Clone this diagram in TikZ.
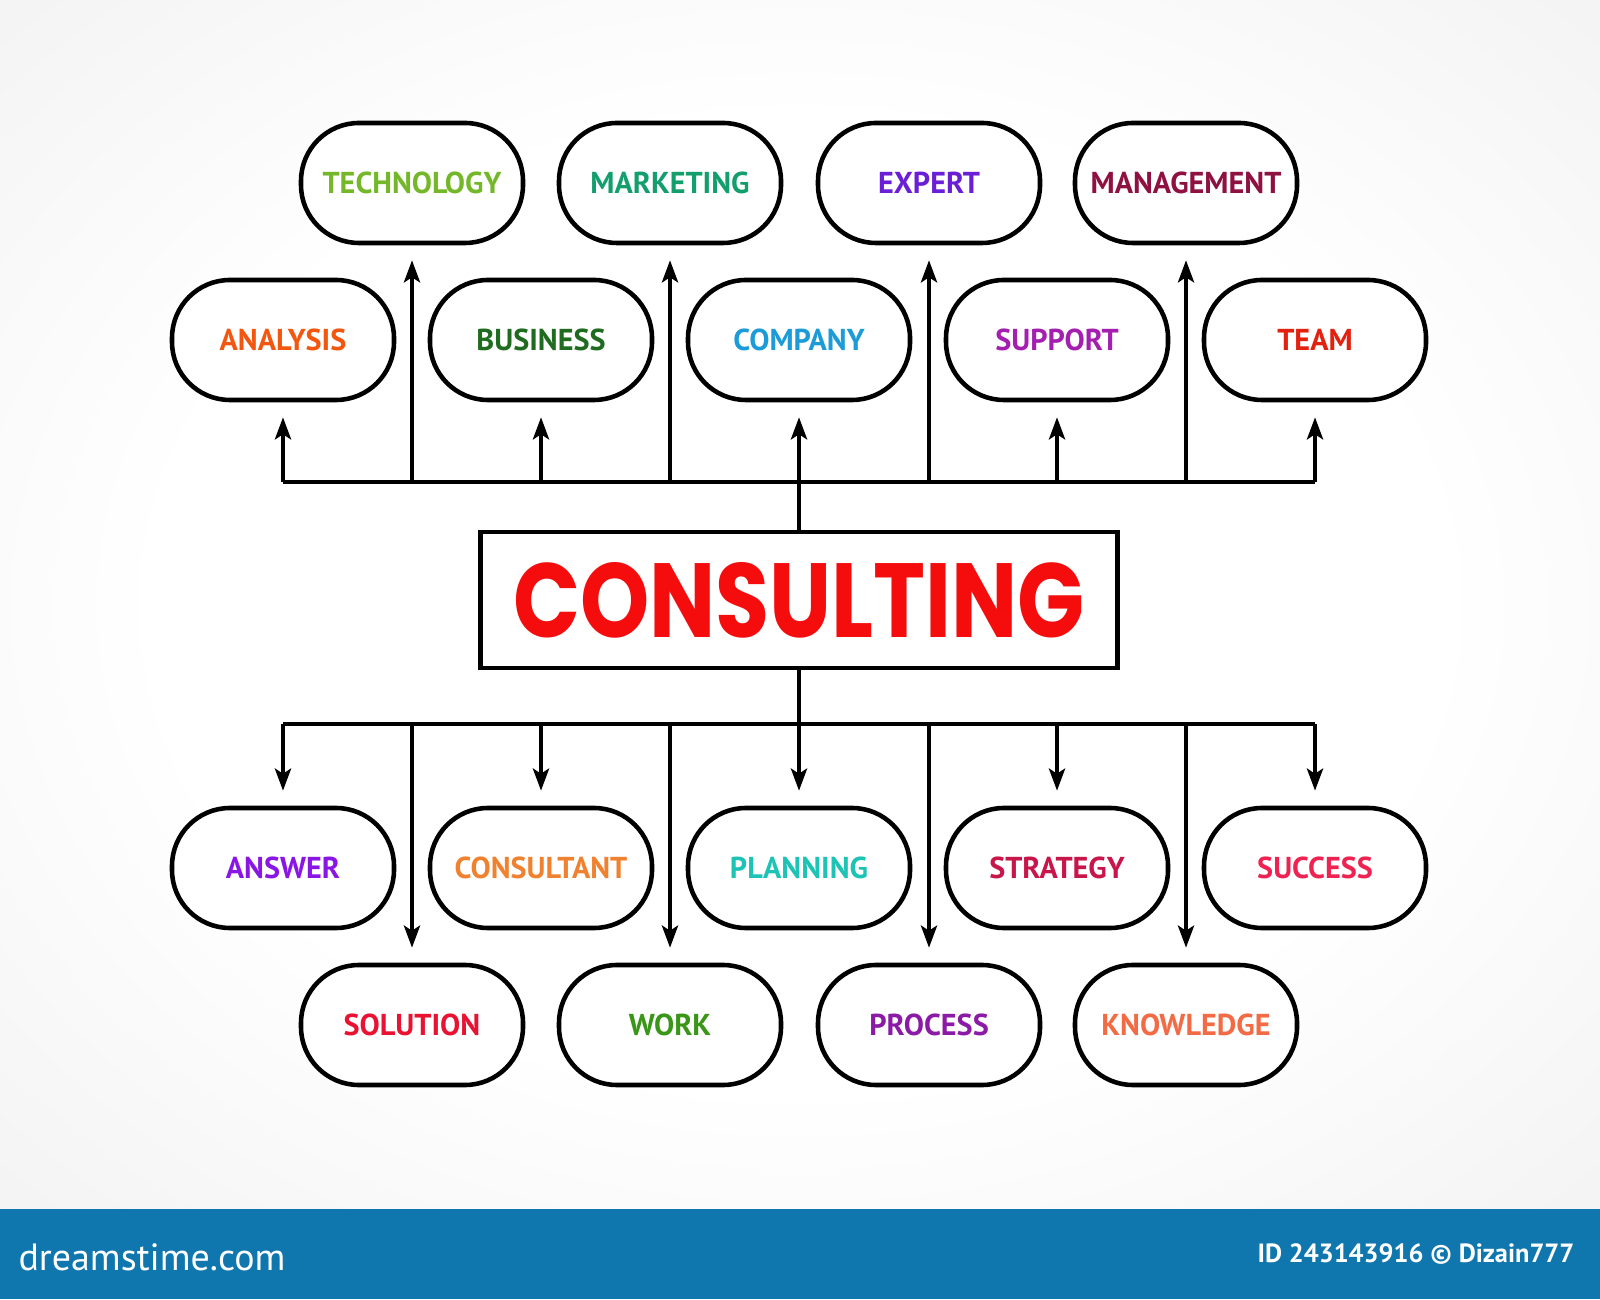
\documentclass[tikz,border=0pt]{standalone}
\usepackage{fontspec}
\usepackage{graphicx}
\setmainfont{PT Sans}
\newfontfamily\roundfont{Poppins}
\usetikzlibrary{arrows.meta,shapes,backgrounds}

\definecolor{barblue}{HTML}{1077AE}
\definecolor{bigred}{HTML}{F50D0D}
\definecolor{techcol}{HTML}{74B82A}
\definecolor{markcol}{HTML}{139E6E}
\definecolor{expcol}{HTML}{6A1FD6}
\definecolor{mancol}{HTML}{8E1142}
\definecolor{anacol}{HTML}{F2560F}
\definecolor{buscol}{HTML}{1F6B1F}
\definecolor{compcol}{HTML}{1B9BD7}
\definecolor{supcol}{HTML}{A41FB0}
\definecolor{teamcol}{HTML}{E3210F}
\definecolor{anscol}{HTML}{8A16E6}
\definecolor{conscol}{HTML}{F0812F}
\definecolor{plancol}{HTML}{1DC3B4}
\definecolor{stratcol}{HTML}{C8154A}
\definecolor{succcol}{HTML}{EF2352}
\definecolor{solcol}{HTML}{EA1233}
\definecolor{workcol}{HTML}{3A9618}
\definecolor{proccol}{HTML}{8B1AA6}
\definecolor{knowcol}{HTML}{F26B45}

\pgfdeclareradialshading{paper}{\pgfpoint{0bp}{0bp}}{color(0bp)=(white); color(20bp)=(white); color(71bp)=(black!15)}

\tikzset{
    word/.style={draw, line width=1.3pt, fill=white, rounded corners=0.58cm,
        minimum width=2.22cm, minimum height=1.2cm,
        font=\bfseries\fontsize{8.6}{11}\selectfont},
    link/.style={line width=1.2pt},
    arr/.style={link, -{Stealth[length=2.2mm,width=1.6mm,inset=0.5mm]}, shorten >=0.15cm}
}

\begin{document}
\begin{tikzpicture}
    \useasboundingbox (0,0) rectangle (16,12.99);
    \shade[shading=paper] (0,0.9) rectangle (16,12.99);
    \fill[barblue] (0,0) rectangle (16,0.9);
    \node[text=white, font=\fontsize{10.8}{13}\selectfont] (site) at (1.52,0.42) {dreamstime.com};
    \node[text=white, font=\bfseries\fontsize{7.5}{9}\selectfont] (ident) at (14.16,0.45) {ID 243143916 © Dizain777};

    \node[word, text=techcol] (technology) at (4.12,11.16) {TECHNOLOGY};
    \node[word, text=markcol] (marketing) at (6.70,11.16) {MARKETING};
    \node[word, text=expcol] (expert) at (9.29,11.16) {EXPERT};
    \node[word, text=mancol] (management) at (11.86,11.16) {MANAGEMENT};

    \node[word, text=anacol] (analysis) at (2.83,9.59) {ANALYSIS};
    \node[word, text=buscol] (business) at (5.41,9.59) {BUSINESS};
    \node[word, text=compcol] (company) at (7.99,9.59) {COMPANY};
    \node[word, text=supcol] (support) at (10.57,9.59) {SUPPORT};
    \node[word, text=teamcol] (team) at (13.15,9.59) {TEAM};

    \node[draw, line width=1.3pt, fill=white, minimum width=6.37cm, minimum height=1.36cm] (core) at (7.99,6.99)
        {\textcolor{bigred}{\resizebox{5.72cm}{0.75cm}{\roundfont\bfseries CONSULTING}}};

    \node[word, text=anscol] (answer) at (2.83,4.31) {ANSWER};
    \node[word, text=conscol] (consultant) at (5.41,4.31) {CONSULTANT};
    \node[word, text=plancol] (planning) at (7.99,4.31) {PLANNING};
    \node[word, text=stratcol] (strategy) at (10.57,4.31) {STRATEGY};
    \node[word, text=succcol] (success) at (13.15,4.31) {SUCCESS};

    \node[word, text=solcol] (solution) at (4.12,2.74) {SOLUTION};
    \node[word, text=workcol] (work) at (6.70,2.74) {WORK};
    \node[word, text=proccol] (process) at (9.29,2.74) {PROCESS};
    \node[word, text=knowcol] (knowledge) at (11.86,2.74) {KNOWLEDGE};

    \coordinate (upbus) at (7.99,8.17);
    \coordinate (downbus) at (7.99,5.75);

    \draw[link] (core.north) -- (upbus);
    \draw[link] (analysis |- upbus) -- (team |- upbus);
    \draw[arr] (analysis |- upbus) -- (analysis);
    \draw[arr] (technology |- upbus) -- (technology);
    \draw[arr] (business |- upbus) -- (business);
    \draw[arr] (marketing |- upbus) -- (marketing);
    \draw[arr] (company |- upbus) -- (company);
    \draw[arr] (expert |- upbus) -- (expert);
    \draw[arr] (support |- upbus) -- (support);
    \draw[arr] (management |- upbus) -- (management);
    \draw[arr] (team |- upbus) -- (team);

    \draw[link] (core.south) -- (downbus);
    \draw[link] (answer |- downbus) -- (success |- downbus);
    \draw[arr] (answer |- downbus) -- (answer);
    \draw[arr] (solution |- downbus) -- (solution);
    \draw[arr] (consultant |- downbus) -- (consultant);
    \draw[arr] (work |- downbus) -- (work);
    \draw[arr] (planning |- downbus) -- (planning);
    \draw[arr] (process |- downbus) -- (process);
    \draw[arr] (strategy |- downbus) -- (strategy);
    \draw[arr] (knowledge |- downbus) -- (knowledge);
    \draw[arr] (success |- downbus) -- (success);
\end{tikzpicture}
\end{document}
